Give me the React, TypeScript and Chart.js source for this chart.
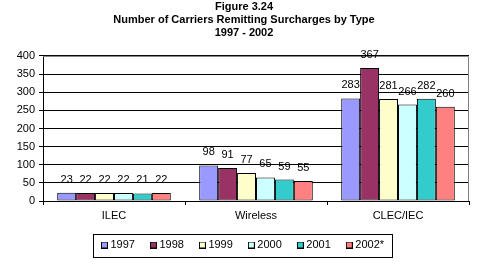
import React, { useEffect, useRef } from "react";
import { Chart, registerables } from "chart.js";

Chart.register(...registerables);

const categories = ["ILEC", "Wireless", "CLEC/IEC"];
const seriesNames = ["1997", "1998", "1999", "2000", "2001", "2002*"];
const values1997 = [23, 98, 283];
const values1998 = [22, 91, 367];
const values1999 = [22, 77, 281];
const values2000 = [22, 65, 266];
const values2001 = [21, 59, 282];
const values2002 = [22, 55, 260];
const seriesColors = ["#9999FF", "#993366", "#FFFFCC", "#CCFFFF", "#33CCCC", "#FF8080"];
const titleLines = ["Figure 3.24", "Number of Carriers Remitting Surcharges by Type", "1997 - 2002"];
const yMin = 0;
const yMax = 400;
const yStep = 50;

const FONT = "'Liberation Sans', Arial, sans-serif";

function makeSwatch(color: string): HTMLCanvasElement {
  const c = document.createElement("canvas");
  c.width = 7;
  c.height = 7;
  const g = c.getContext("2d")!;
  g.fillStyle = "#000";
  g.fillRect(0, 0, 7, 7);
  g.fillStyle = color;
  g.fillRect(1, 1, 5, 5);
  return c;
}

const valueLabels = {
  id: "valueLabels",
  afterDatasetsDraw(chart: any) {
    const ctx = chart.ctx;
    ctx.save();
    ctx.font = `11px ${FONT}`;
    ctx.fillStyle = "#000";
    ctx.textAlign = "center";
    ctx.textBaseline = "middle";
    chart.data.datasets.forEach((ds: any, i: number) => {
      const meta = chart.getDatasetMeta(i);
      meta.data.forEach((bar: any, j: number) => {
        ctx.fillText(String(ds.data[j]), bar.x, bar.y - 13);
      });
    });
    ctx.restore();
  },
};

const frame = {
  id: "frame",
  beforeDatasetsDraw(chart: any) {
    const { ctx, chartArea } = chart;
    ctx.save();
    ctx.strokeStyle = "#808080";
    ctx.lineWidth = 1;
    ctx.beginPath();
    ctx.moveTo(chartArea.left, chartArea.top + 0.5);
    ctx.lineTo(chartArea.right - 0.5, chartArea.top + 0.5);
    ctx.lineTo(chartArea.right - 0.5, chartArea.bottom);
    ctx.stroke();
    ctx.restore();
  },
  afterDraw(chart: any) {
    const lg = chart.legend;
    if (!lg || !lg.legendHitBoxes || !lg.legendHitBoxes.length) return;
    const boxes = lg.legendHitBoxes;
    const first = boxes[0];
    const last = boxes[boxes.length - 1];
    const ctx = chart.ctx;
    const left = Math.round(first.left) - 10.5;
    const right = Math.round(last.left + last.width) + 8.5;
    const cy = first.top + first.height / 2;
    const top = Math.round(cy - 11) + 0.5;
    const bottom = Math.round(cy + 12) + 0.5;
    ctx.save();
    ctx.strokeStyle = "#000";
    ctx.lineWidth = 1;
    ctx.strokeRect(left, top, right - left, bottom - top);
    ctx.restore();
  },
};

export default function App() {
  const ref = useRef<HTMLCanvasElement>(null);

  useEffect(() => {
    const seriesData = [values1997, values1998, values1999, values2000, values2001, values2002];
    const swatches = seriesColors.map(makeSwatch);
    const chart = new Chart(ref.current!, {
      type: "bar",
      data: {
        labels: categories,
        datasets: seriesNames.map((name, i) => ({
          label: name,
          data: seriesData[i],
          backgroundColor: seriesColors[i],
          borderColor: "#000",
          borderWidth: 1,
          borderSkipped: false,
          categoryPercentage: 0.8,
          barPercentage: 1.0,
        })),
      },
      plugins: [valueLabels, frame],
      options: {
        animation: false,
        responsive: false,
        maintainAspectRatio: false,
        layout: { padding: { top: 0, left: 0, right: 0, bottom: 5.5 } },
        plugins: {
          tooltip: { enabled: false },
          title: {
            display: true,
            text: titleLines,
            color: "#000",
            font: { family: FONT, size: 11, weight: "bold", lineHeight: 1.15 },
            padding: { top: 1, bottom: 17 },
          },
          legend: {
            display: true,
            position: "bottom",
            labels: {
              color: "#000",
              font: { family: FONT, size: 11 },
              usePointStyle: true,
              pointStyleWidth: 1,
              boxHeight: 7,
              padding: 18,
              generateLabels(chart: any) {
                const items = Chart.defaults.plugins.legend.labels.generateLabels(chart);
                return items.map((it: any, i: number) => ({ ...it, pointStyle: swatches[i] }));
              },
            },
          },
        },
        scales: {
          x: {
            grid: {
              display: true,
              drawOnChartArea: false,
              drawTicks: true,
              tickLength: 4,
              color: "#000",
              offset: true,
            },
            border: { display: true, color: "#000" },
            ticks: {
              color: "#000",
              font: { family: FONT, size: 11 },
              padding: 4,
              maxRotation: 0,
            },
            afterFit(scale: any) {
              scale.height = 20.5;
            },
          },
          y: {
            min: yMin,
            max: yMax,
            ticks: {
              stepSize: yStep,
              color: "#000",
              font: { family: FONT, size: 11 },
              padding: 4,
            },
            grid: { color: "#000", tickLength: 4, drawTicks: true },
            border: { display: true, color: "#000" },
            afterFit(scale: any) {
              scale.width = 43;
            },
          },
          y2: {
            position: "right",
            display: true,
            grid: { display: false },
            border: { display: false },
            ticks: { display: false },
            afterFit(scale: any) {
              scale.width = 19;
            },
          },
        },
      },
    });
    return () => chart.destroy();
  }, []);

  return (
    <div style={{ position: "absolute", left: 0, top: 0, width: 488, height: 266, background: "#fff" }}>
      <canvas ref={ref} width={488} height={266} style={{ width: 488, height: 266, display: "block" }} />
    </div>
  );
}
